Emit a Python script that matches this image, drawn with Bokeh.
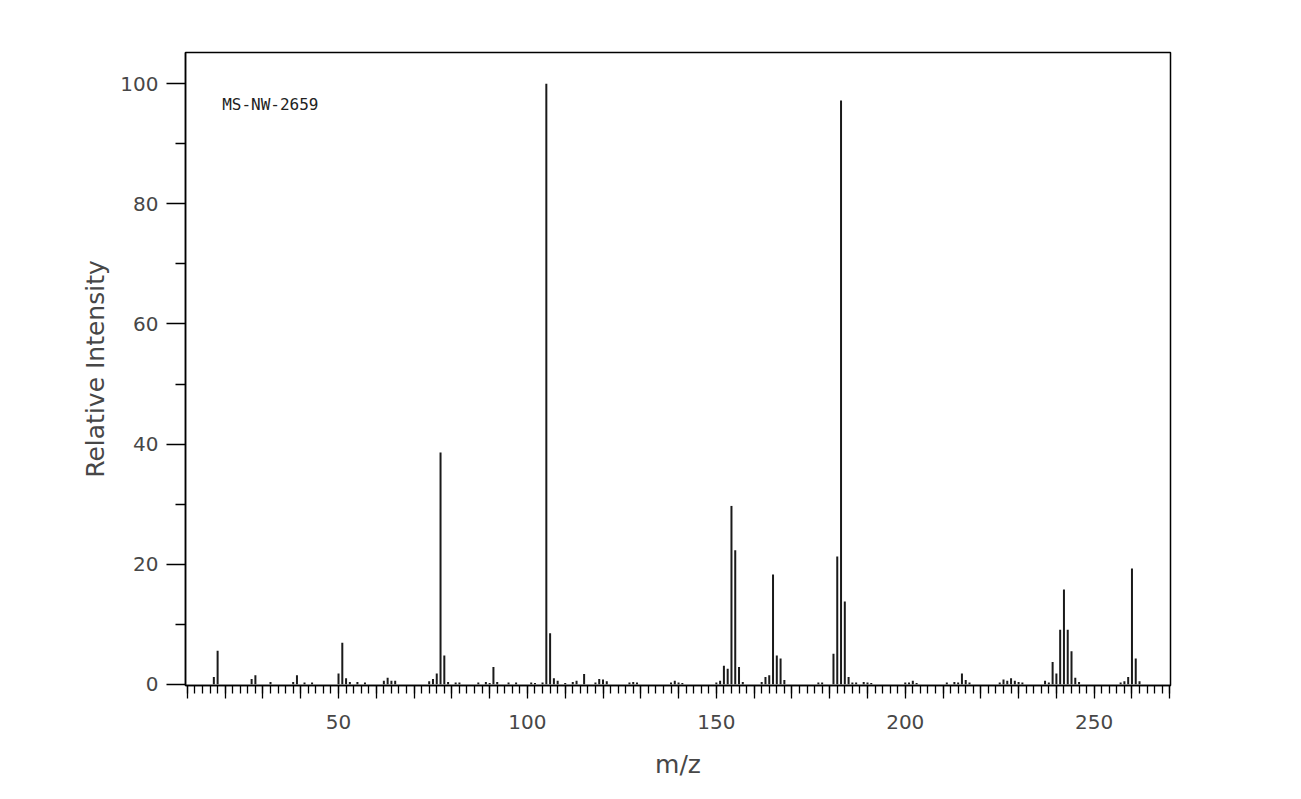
from bokeh.plotting import figure
from bokeh.models import Range1d, FixedTicker, Label, ColumnDataSource
from bokeh.embed import file_html
from bokeh.resources import INLINE

# ---- data ----
mz = [17, 18, 27, 28, 32, 38, 39, 41, 43, 50, 51, 52, 53, 55, 57, 62, 63, 64, 65,
      74, 75, 76, 77, 78, 79, 81, 82, 87, 89, 90, 91, 92, 95, 97, 101, 102, 104,
      105, 106, 107, 108, 110, 112, 113, 115, 118, 119, 120, 121, 127, 128, 129,
      138, 139, 140, 141, 150, 151, 152, 153, 154, 155, 156, 157, 162, 163, 164,
      165, 166, 167, 168, 177, 178, 181, 182, 183, 184, 185, 186, 187, 189, 190,
      191, 200, 201, 202, 203, 211, 213, 214, 215, 216, 217, 225, 226, 227, 228,
      229, 230, 231, 237, 238, 239, 240, 241, 242, 243, 244, 245, 246, 257, 258,
      259, 260, 261, 262]
intensity = [1.2, 5.6, 0.9, 1.5, 0.4, 0.4, 1.5, 0.3, 0.3, 1.8, 6.9, 1.0, 0.4, 0.4, 0.3, 0.6, 1.1, 0.6, 0.6,
             0.5, 0.9, 1.8, 38.6, 4.8, 0.4, 0.3, 0.3, 0.3, 0.4, 0.2, 2.9, 0.4, 0.3, 0.3, 0.3, 0.2, 0.3,
             100.0, 8.5, 1.0, 0.6, 0.2, 0.4, 0.6, 1.7, 0.3, 0.9, 0.8, 0.5, 0.3, 0.4, 0.3,
             0.3, 0.6, 0.3, 0.2, 0.3, 0.6, 3.1, 2.6, 29.7, 22.3, 2.9, 0.4, 0.4, 1.2, 1.5,
             18.3, 4.8, 4.3, 0.7, 0.3, 0.3, 5.1, 21.3, 97.2, 13.8, 1.2, 0.3, 0.3, 0.4, 0.3,
             0.2, 0.3, 0.3, 0.6, 0.2, 0.3, 0.4, 0.3, 1.8, 0.7, 0.3, 0.3, 0.8, 0.6, 1.0,
             0.6, 0.4, 0.3, 0.6, 0.3, 3.7, 1.8, 9.1, 15.8, 9.1, 5.5, 1.1, 0.4, 0.3, 0.5,
             1.2, 19.3, 4.3, 0.5]
x_tick_values = [50, 100, 150, 200, 250]
x_tick_labels = ["50", "100", "150", "200", "250"]
y_tick_values = [0, 20, 40, 60, 80, 100]
sample_id = "MS-NW-2659"

FONT = "DejaVu Sans"
GREY = "#474747"

p = figure(frame_width=985, frame_height=633,
           x_range=Range1d(9.5, 270.2), y_range=Range1d(-0.2, 105.2),
           output_backend="svg", toolbar_location=None,
           min_border_left=185, min_border_top=52, min_border_right=115,
           min_border_bottom=100, background_fill_color="white",
           border_fill_color="white")

p.xgrid.visible = False
p.ygrid.visible = False
p.outline_line_color = "black"
p.outline_line_width = 1.5
p.outline_line_alpha = 1.0

src = ColumnDataSource(dict(x=mz, y=intensity, y0=[0] * len(mz)))
p.segment(x0="x", y0="y0", x1="x", y1="y", source=src,
          line_color="#1a1a1a", line_width=2)

# x axis: ticks every 10 (labelled every 50), minor every 2
tens = list(range(10, 271, 10))
p.xaxis.ticker = FixedTicker(ticks=tens, minor_ticks=list(range(10, 271, 2)))
overrides = {t: "" for t in tens}
for v, lab in zip(x_tick_values, x_tick_labels):
    overrides[v] = lab
p.xaxis.major_label_overrides = overrides
p.xaxis.major_tick_out = 13
p.xaxis.major_tick_in = 0
p.xaxis.minor_tick_out = 8
p.xaxis.minor_tick_in = 0
p.xaxis.axis_label = "m/z"

p.yaxis.ticker = FixedTicker(ticks=y_tick_values, minor_ticks=[10, 30, 50, 70, 90])
p.yaxis.major_tick_out = 19
p.yaxis.major_tick_in = 0
p.yaxis.minor_tick_out = 10
p.yaxis.minor_tick_in = 0
p.yaxis.axis_label = "Relative Intensity"

for ax in (p.xaxis, p.yaxis):
    ax.axis_line_color = "black"
    ax.axis_line_width = 1.5
    ax.major_tick_line_color = "black"
    ax.major_tick_line_width = 1.3
    ax.minor_tick_line_color = "black"
    ax.minor_tick_line_width = 1.3
    ax.major_label_text_font = FONT
    ax.major_label_text_font_size = "20px"
    ax.major_label_text_color = GREY
    ax.axis_label_text_font = FONT
    ax.axis_label_text_font_size = "25px"
    ax.axis_label_text_font_style = "normal"
    ax.axis_label_text_color = GREY

p.xaxis.major_label_standoff = 16
p.xaxis.axis_label_standoff = 18
p.yaxis.major_label_standoff = 8
p.yaxis.axis_label_standoff = 7

p.add_layout(Label(x=19.2, y=96.5, text=sample_id, text_font="DejaVu Sans Mono",
                   text_font_size="16px", text_color="#222222",
                   text_baseline="middle", text_align="left"))

open("out.html", "w").write(file_html(p, INLINE))
